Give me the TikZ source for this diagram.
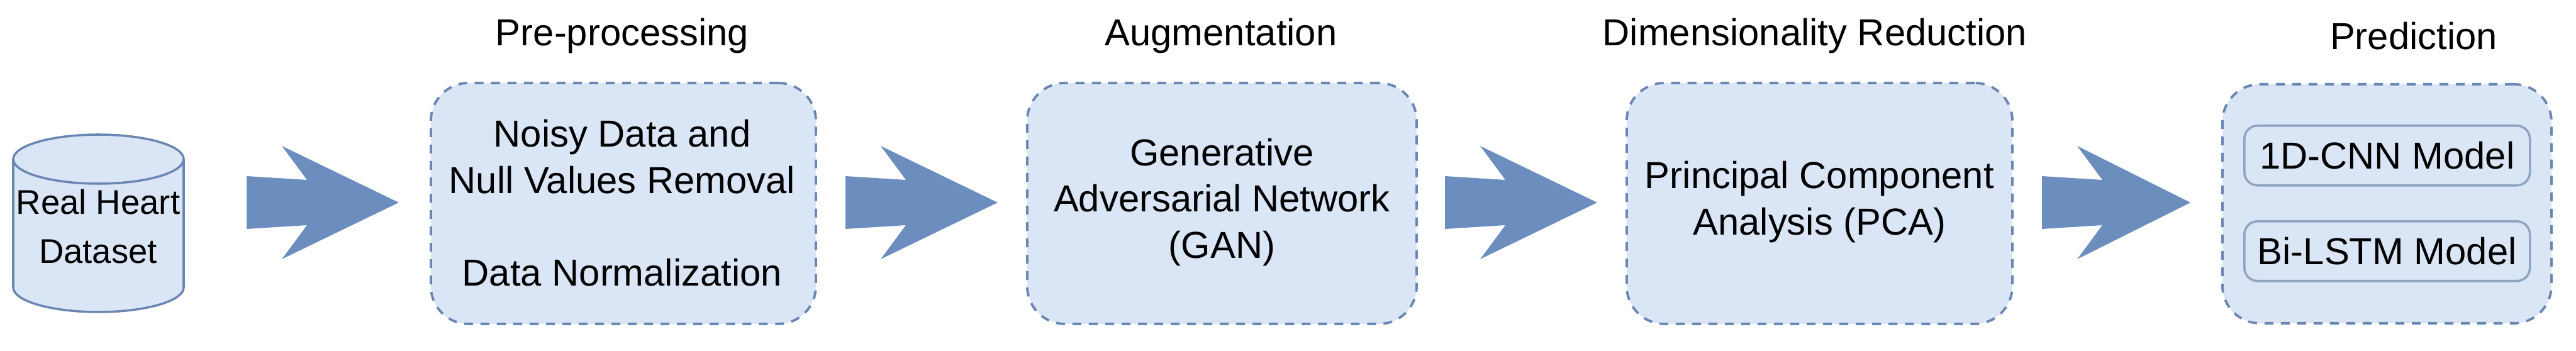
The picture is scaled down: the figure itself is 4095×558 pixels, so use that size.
\documentclass[tikz,border=0pt]{standalone}
\usepackage{fontspec}
\setmainfont{Liberation Sans}
\definecolor{boxfill}{HTML}{DAE6F6}
\definecolor{boxline}{HTML}{6A86B2}
\definecolor{arrowfill}{HTML}{6C8EBF}
\definecolor{innerline}{HTML}{8FA3C3}
\newcommand\myblockarrow[2]{%
  \fill[arrowfill] ($(#1)+(0,-42)$) -- ++(96,6) -- ++(-40,-54) -- ($(#2)$) -- ($(#1)+(56,90)$) -- ++(40,-54) -- ($(#1)+(0,42)$) -- cycle;}
\usetikzlibrary{calc}
\tikzset{
  stage/.style={draw=boxline, fill=boxfill, line width=1.1pt, dash pattern=on 4pt off 3.4pt, rounded corners=17pt, anchor=north west},
  inner/.style={draw=innerline, fill=boxfill, line width=1pt, rounded corners=6pt, anchor=north west},
  title/.style={font=\fontsize{17}{20}\selectfont},
  body/.style={font=\fontsize{17}{21}\selectfont, align=center}
}
\begin{document}
\begin{tikzpicture}[x=0.01cm,y=-0.01cm]
\useasboundingbox (0,0) rectangle (4095,558);
% cylinder
\filldraw[fill=boxfill, draw=boxline, line width=1pt] (21,253) -- (21,457) arc[start angle=180,end angle=0,x radius=135.5,y radius=39] -- (292,253) arc[start angle=0,end angle=-180,x radius=135.5,y radius=39] -- cycle;
\draw[boxline, line width=1pt] (21,253) arc[start angle=180,end angle=0,x radius=135.5,y radius=39];
\node[body, font=\fontsize{15.5}{21}\selectfont] (data) at (156,360) {Real Heart\\[1pt]Dataset};
% stage boxes
\node[stage, minimum width=612*0.01cm, minimum height=383*0.01cm] (pre) at (683,130) {};
\node[stage, minimum width=619*0.01cm, minimum height=383*0.01cm] (aug) at (1631,130) {};
\node[stage, minimum width=613*0.01cm, minimum height=383*0.01cm] (pca) at (2584,130) {};
\node[stage, minimum width=523*0.01cm, minimum height=380*0.01cm] (pred) at (3531,132) {};
\node[body] (pre1) at (989,249) {Noisy Data and\\Null Values Removal};
\node[body] (pre2) at (989,433) {Data Normalization};
\node[body] (gan) at ($(aug.center)+(0,-2)$) {Generative\\Adversarial Network\\(GAN)};
\node[body] (pcat) at ($(pca.center)+(0,-2)$) {Principal Component\\Analysis (PCA)};
\node[inner, minimum width=454*0.01cm, minimum height=95*0.01cm] (cnn) at (3566,198) {};
\node[body] at (cnn.center) {1D-CNN Model};
\node[inner, minimum width=454*0.01cm, minimum height=95*0.01cm] (lstm) at (3566,350) {};
\node[body] at (lstm.center) {Bi-LSTM Model};
% titles
\node[title] (t1) at (989,57) {Pre-processing};
\node[title] (t2) at (1941,57) {Augmentation};
\node[title] (t3) at (2885,57) {Dimensionality Reduction};
\node[title] (t4) at (3837,57) {Prediction};
% block arrows
\coordinate (a1) at (392,322); \coordinate (b1) at (634,322);
\coordinate (a2) at (1344,322); \coordinate (b2) at (1586,322);
\coordinate (a3) at (2297,322); \coordinate (b3) at (2539,322);
\coordinate (a4) at (3246,322); \coordinate (b4) at (3482,322);
\myblockarrow{a1}{b1}
\myblockarrow{a2}{b2}
\myblockarrow{a3}{b3}
\myblockarrow{a4}{b4}
\end{tikzpicture}
\end{document}
